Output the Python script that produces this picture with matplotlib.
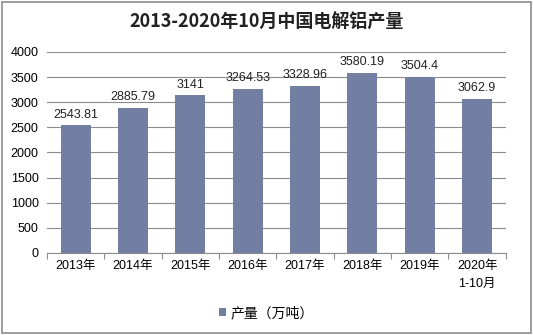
import matplotlib
matplotlib.use("Agg")
import matplotlib.pyplot as plt
from matplotlib.patches import Rectangle

plt.rcParams['font.family'] = ['Liberation Sans', 'Noto Sans CJK SC', 'DejaVu Sans']

categories = ["2013年", "2014年", "2015年", "2016年", "2017年", "2018年", "2019年", "2020年\n1-10月"]
values = [2543.81, 2885.79, 3141, 3264.53, 3328.96, 3580.19, 3504.4, 3062.9]
labels = ["2543.81", "2885.79", "3141", "3264.53", "3328.96", "3580.19", "3504.4", "3062.9"]
yticks = [0, 500, 1000, 1500, 2000, 2500, 3000, 3500, 4000]

bar_color = "#737ea3"

fig = plt.figure(figsize=(5.33, 3.35), dpi=100)
ax = fig.add_axes([0.088, 0.245, 0.861, 0.600])

x = range(len(categories))
bars = ax.bar(x, values, width=0.52, color=bar_color, label="产量（万吨）", zorder=3)
for xi, v, t in zip(x, values, labels):
    ax.text(xi, v + 90, t, ha="center", va="bottom", fontsize=9, color="#222222")

ax.set_ylim(0, 4000)
ax.set_xlim(-0.5, len(categories) - 0.5)
ax.set_yticks(yticks)
ax.set_yticklabels([str(t) for t in yticks], fontsize=9)
ax.yaxis.grid(True, color="#8c8c8c", linewidth=0.8, zorder=0)
ax.tick_params(axis="y", length=0, pad=6)

ax.set_xticks([i - 0.5 for i in range(len(categories) + 1)], minor=False)
ax.set_xticklabels([])
ax.tick_params(axis="x", length=4, color="#8c8c8c", direction="out")
for xi, c in zip(x, categories):
    ax.text(xi, -150, c, ha="center", va="top", fontsize=9, linespacing=1.6,
            transform=ax.transData)

for s in ["top", "right", "left"]:
    ax.spines[s].set_visible(False)
ax.spines["bottom"].set_color("#8c8c8c")

fig.text(0.5, 0.935, "2013-2020年10月中国电解铝产量", ha="center", va="center",
         fontsize=13, fontweight="bold", family=["Noto Sans CJK SC", "DejaVu Sans"],
         color="#222222")

leg = fig.legend(handles=[bars], labels=["产量（万吨）"], loc="center",
                 bbox_to_anchor=(0.5, 0.065), frameon=False, fontsize=10,
                 handlelength=0.5, handleheight=0.5, handletextpad=0.3)

fig.patches.append(Rectangle((0.004, 0.006), 0.992, 0.988, transform=fig.transFigure,
                             fill=False, edgecolor="#8c8c8c", linewidth=1.2))

fig.savefig("out.png", dpi=100)
